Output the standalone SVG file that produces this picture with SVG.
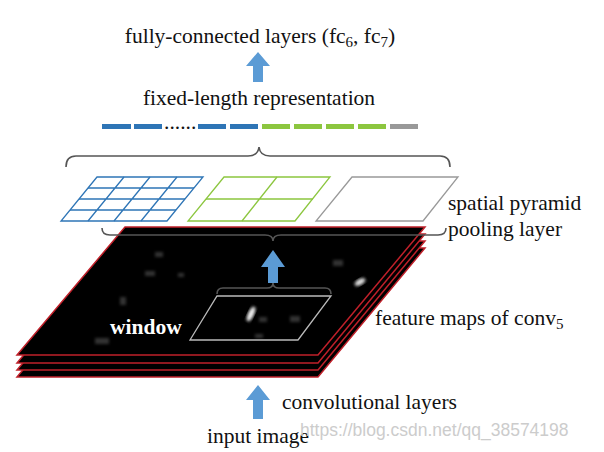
<svg xmlns="http://www.w3.org/2000/svg" width="604" height="452" viewBox="0 0 604 452">
<defs><style>
text{font-family:"Liberation Serif",serif;font-size:21.5px;fill:#111}
.br{fill:none;stroke:#555;stroke-width:1.6}
.arr{fill:#5b9bd5}
.layer{fill:#000;stroke:#c0202a;stroke-width:1.5}
</style>
<filter id="blur"><feGaussianBlur stdDeviation="1.5"/></filter></defs>
<rect width="604" height="452" fill="#fff"/>
<text x="260" y="43" text-anchor="middle">fully-connected layers (fc<tspan font-size="15" dy="4">6</tspan><tspan dy="-4">, fc</tspan><tspan font-size="15" dy="4">7</tspan><tspan dy="-4">)</tspan></text>
<g id="arrow-top"><path class="arr" d="M253 82V66H246L258 52L270 66H263V82Z"/></g>
<text x="259" y="105" text-anchor="middle">fixed-length representation</text>
<g id="vector">
<g fill="#2e75b6"><rect x="102" y="124" width="29" height="5"/><rect x="134" y="124" width="28" height="5"/><rect x="198" y="124" width="28" height="5"/><rect x="230" y="124" width="28" height="5"/></g>
<text x="164" y="129" font-size="16" fill="#222">......</text>
<g fill="#8cc63f"><rect x="262" y="124" width="28" height="5"/><rect x="294" y="124" width="28" height="5"/><rect x="326" y="124" width="28" height="5"/><rect x="358" y="124" width="28" height="5"/></g>
<rect x="390" y="124" width="28" height="5" fill="#999"/>
</g>
<path class="br" d="M66 167Q66 156 76 156H248Q258 156 259 147Q260 156 270 156H440Q450 156 450 167"/>
<g id="grid4" fill="none" stroke="#2e75b6" stroke-width="1.3">
<path d="M97 177H203L167 221H61Z"/>
<path d="M88 188H194M79 199H185M70 210H176M124 177L88 221M150 177L114 221M177 177L141 221"/>
</g>
<g id="grid2" fill="none" stroke="#8cc63f" stroke-width="1.3">
<path d="M224 177H330L295 221H188Z"/>
<path d="M206 199H313M277 177L242 221"/>
</g>
<g id="grid1"><path d="M352 177H458L423 221H316Z" fill="none" stroke="#999" stroke-width="1.3"/></g>
<text x="448" y="210">spatial pyramid</text>
<text x="448" y="236">pooling layer</text>
<g id="featuremaps">
<path class="layer" d="M125 248H425L318 377H17Z"/>
<path class="layer" d="M125 241H425L318 370H17Z"/>
<path class="layer" d="M125 234H425L318 363H17Z"/>
<path class="layer" d="M125 227H425L318 355H17Z"/>
<g fill="#666" opacity="0.5" filter="url(#blur)">
<rect x="155" y="252" width="8" height="5"/><rect x="145" y="271" width="10" height="5"/><rect x="178" y="273" width="6" height="4"/><rect x="120" y="297" width="6" height="8"/><rect x="95" y="338" width="14" height="6"/><rect x="333" y="260" width="10" height="6"/><rect x="259" y="317" width="8" height="5"/><rect x="255" y="334" width="8" height="4"/><rect x="290" y="316" width="10" height="6"/></g>
<ellipse cx="360" cy="282" rx="6" ry="3" fill="#ddd" filter="url(#blur)" transform="rotate(-30 360 282)"/>
<ellipse cx="251" cy="314" rx="3" ry="8" fill="#eee" filter="url(#blur)" transform="rotate(25 251 314)"/>
</g>
<g id="window"><path d="M217 296H331L298 340H190Z" fill="none" stroke="#bbb" stroke-width="1.3"/></g>
<text x="110" y="334" font-weight="bold" font-size="19" style="fill:#fff">window</text>
<path class="br" d="M217 294Q217 288 223 288H267Q273 288 273 283Q273 288 279 288H325Q331 288 331 294"/>
<g id="arrow-mid"><path class="arr" d="M268 283V267H261L273 250L285 267H278V283Z"/></g>
<path class="br" d="M102 228Q102 235 110 235H265Q273 235 273 241Q273 235 281 235H438Q446 235 446 228"/>
<text x="375" y="325">feature maps of conv<tspan font-size="15" dy="4">5</tspan></text>
<g id="arrow-bottom"><path class="arr" d="M253 419V400H246L258 385L270 400H263V419Z"/></g>
<text x="282" y="409">convolutional layers</text>
<text x="207" y="443">input image</text>
<text x="300" y="436" style="fill:#ccc;font-family:'Liberation Sans',sans-serif;font-size:17.5px">https://blog.csdn.net/qq_38574198</text>
</svg>
